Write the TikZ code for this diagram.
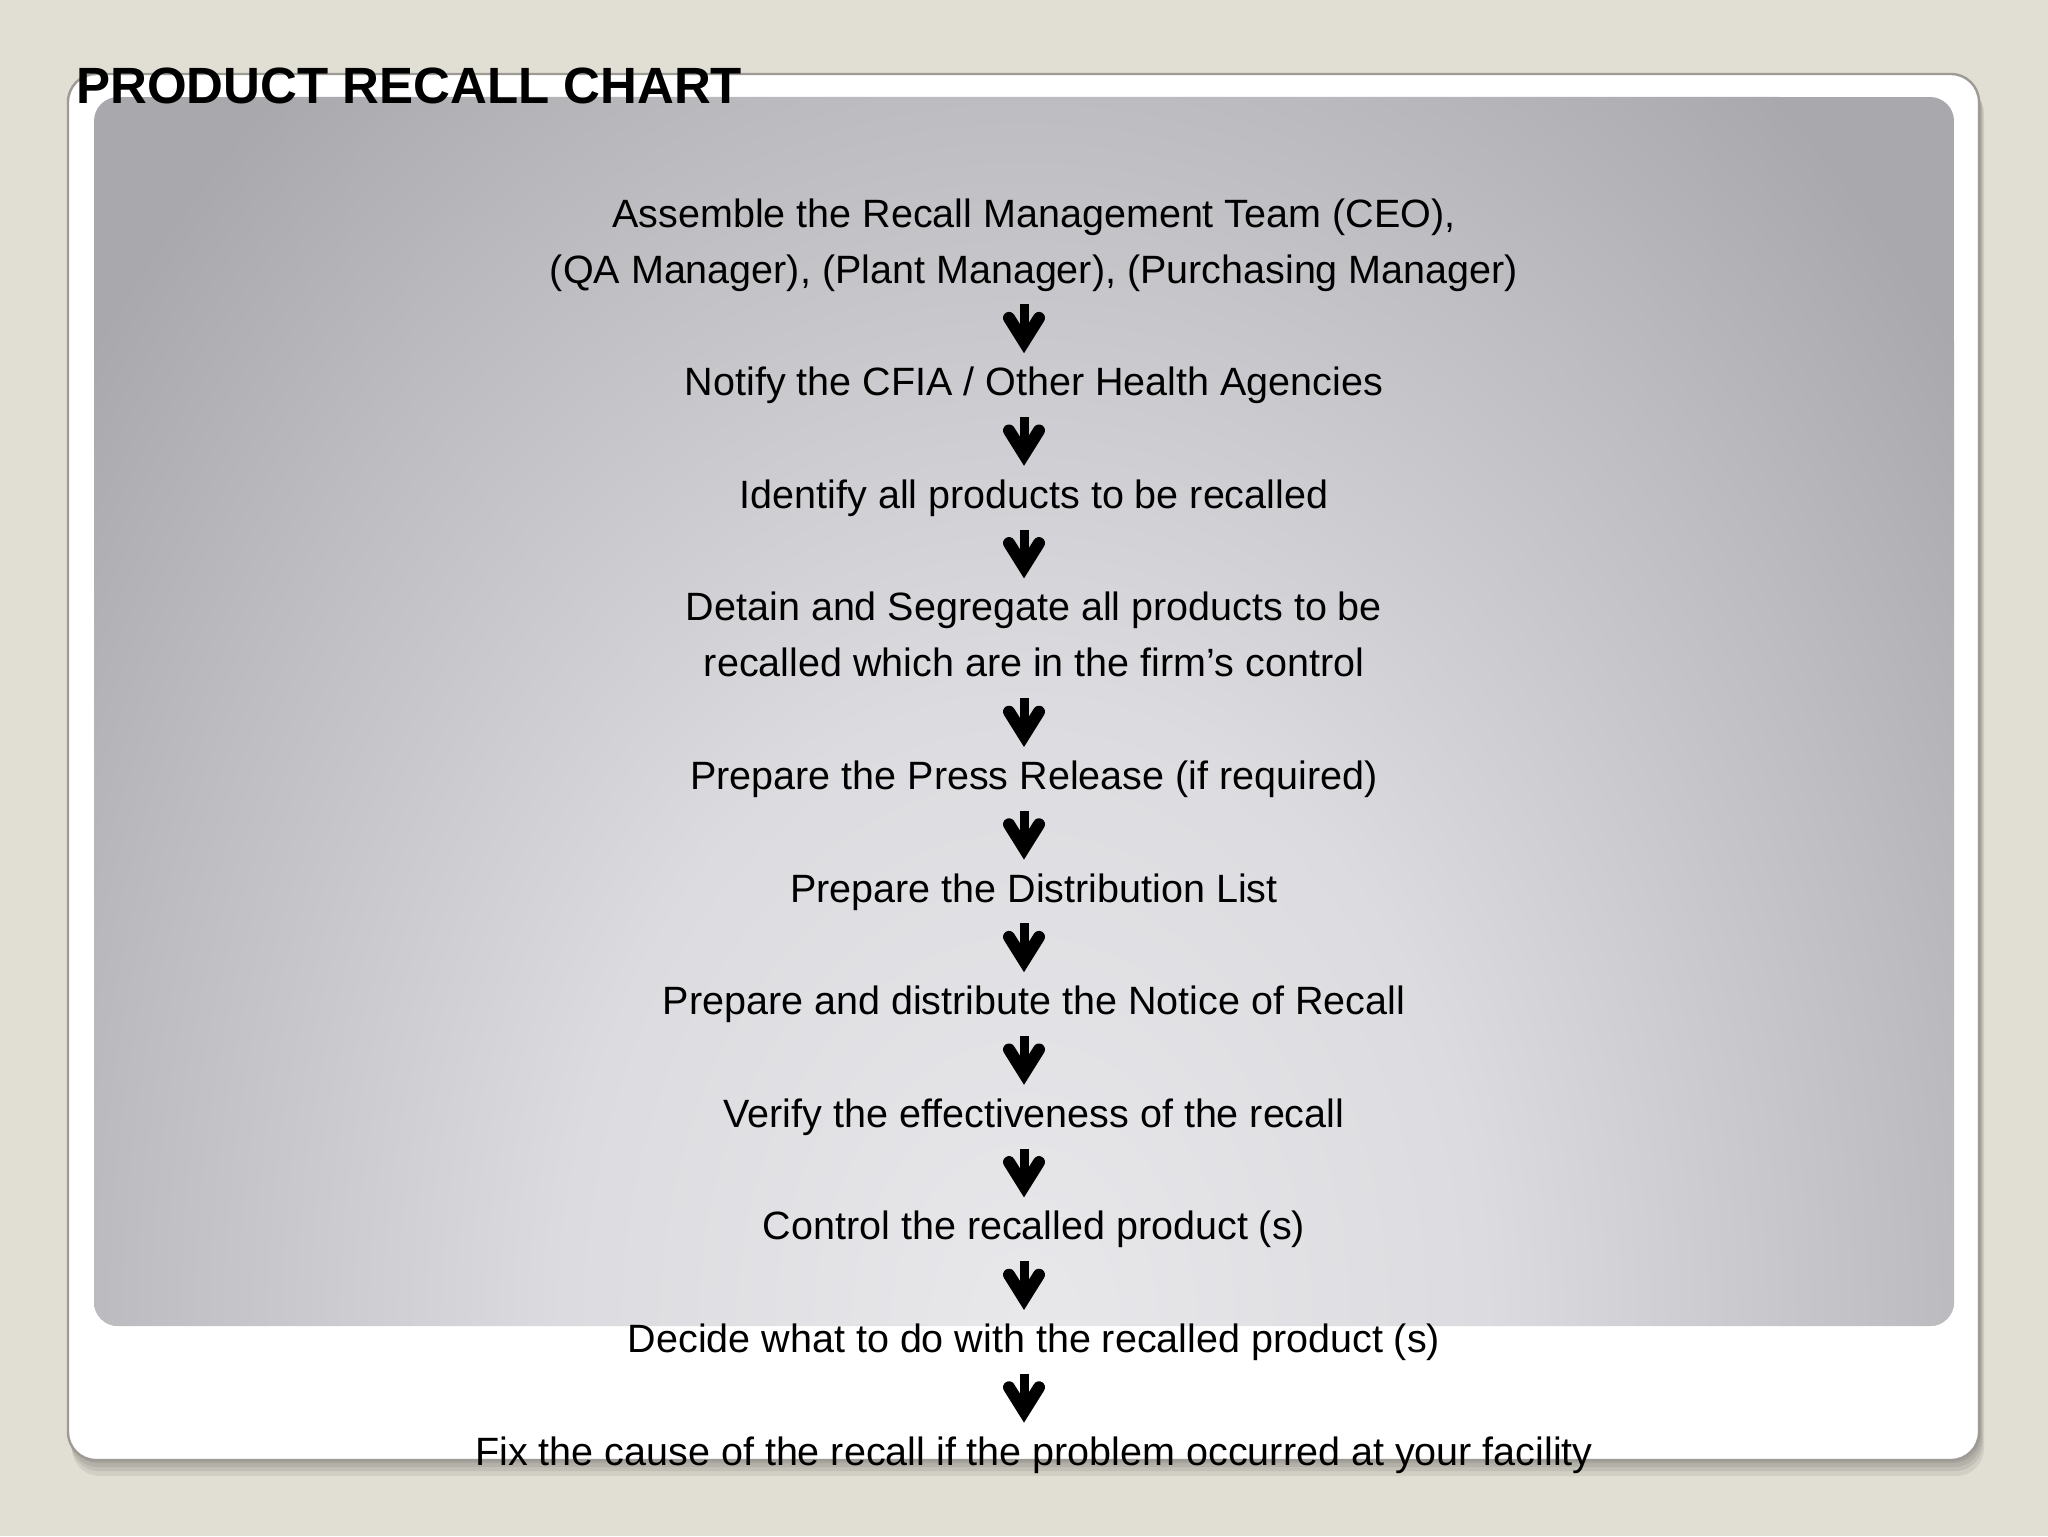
\documentclass[tikz,border=0pt]{standalone}
\usepackage{fontspec}
\setmainfont{Liberation Sans}
\usetikzlibrary{positioning,arrows.meta}

\definecolor{slidebg}{HTML}{E1DED3}
\definecolor{frameline}{HTML}{9E9B96}
\definecolor{glowa}{HTML}{E8E7EA}
\definecolor{glowb}{HTML}{DCDBDF}
\definecolor{glowc}{HTML}{BDBCC0}
\definecolor{glowd}{HTML}{A9A8AC}
\pgfdeclareradialshading{panelglow}{\pgfpointorigin}{color(0bp)=(glowa); color(9.75bp)=(glowb); color(19.25bp)=(glowc); color(25bp)=(glowd); color(50bp)=(glowd)}

\begin{document}
\begin{tikzpicture}[x=0.5pt, y=-0.5pt, node distance=24.4pt,
    steptext/.style = {inner sep=0pt, text height=21pt, text depth=10.5pt, align=center,
      font=\fontsize{19.75pt}{28pt}\selectfont},
    twoline/.style = {text height=49pt},
    titletext/.style = {inner sep=0pt, font=\fontsize{25.5pt}{30pt}\selectfont\bfseries},
    steparrow/.style = {line width=4.5pt, -{Straight Barb[length=12pt, width=15pt, line width=6pt, line cap=round, line join=miter]}}]
    \useasboundingbox (0,0) rectangle (2048,1536);
    \fill[slidebg] (0,0) rectangle (2048,1536);
    % frame with its shadow
    \fill[black, opacity=0.07, rounded corners=14pt] (70,80) rectangle (1981,1463);
    \fill[black, opacity=0.07, rounded corners=14pt] (70,82) rectangle (1982,1467);
    \fill[black, opacity=0.07, rounded corners=14pt] (71,84) rectangle (1983,1471);
    \fill[black, opacity=0.07, rounded corners=14pt] (72,86) rectangle (1984,1476);
    \draw[frameline, line width=1.2pt, fill=white, rounded corners=14pt] (68,74) rectangle (1979,1460);
    % grey panel
    \begin{scope}
        \clip[rounded corners=12pt] (94,97) rectangle (1954,1326);
        \fill[glowd] (94,97) rectangle (1954,1326);
        \shade[shading=panelglow] (1024,1326) ellipse [x radius=590pt, y radius=800pt];
    \end{scope}
    \node[titletext, anchor=base west] (title) at (76,104) {PRODUCT RECALL CHART};
    \coordinate (spine) at (1024,0);
    \node[steptext, twoline, anchor=base] (assemble) at (1034,283) {Assemble the Recall Management Team (CEO),\\(QA Manager), (Plant Manager), (Purchasing Manager)};
    \node[steptext] (notify) [below=of assemble] {Notify the CFIA / Other Health Agencies};
    \node[steptext] (identify) [below=of notify] {Identify all products to be recalled};
    \node[steptext, twoline] (detain) [below=of identify] {Detain and Segregate all products to be\\recalled which are in the firm’s control};
    \node[steptext] (press) [below=of detain] {Prepare the Press Release (if required)};
    \node[steptext] (distlist) [below=of press] {Prepare the Distribution List};
    \node[steptext] (notice) [below=of distlist] {Prepare and distribute the Notice of Recall};
    \node[steptext] (verify) [below=of notice] {Verify the effectiveness of the recall};
    \node[steptext] (control) [below=of verify] {Control the recalled product (s)};
    \node[steptext] (decide) [below=of control] {Decide what to do with the recalled product (s)};
    \node[steptext] (fix) [below=of decide] {Fix the cause of the recall if the problem occurred at your facility};
    \draw[steparrow] (assemble.south -| spine) -- (notify.north -| spine);
    \draw[steparrow] (notify.south -| spine) -- (identify.north -| spine);
    \draw[steparrow] (identify.south -| spine) -- (detain.north -| spine);
    \draw[steparrow] (detain.south -| spine) -- (press.north -| spine);
    \draw[steparrow] (press.south -| spine) -- (distlist.north -| spine);
    \draw[steparrow] (distlist.south -| spine) -- (notice.north -| spine);
    \draw[steparrow] (notice.south -| spine) -- (verify.north -| spine);
    \draw[steparrow] (verify.south -| spine) -- (control.north -| spine);
    \draw[steparrow] (control.south -| spine) -- (decide.north -| spine);
    \draw[steparrow] (decide.south -| spine) -- (fix.north -| spine);
\end{tikzpicture}
\end{document}
